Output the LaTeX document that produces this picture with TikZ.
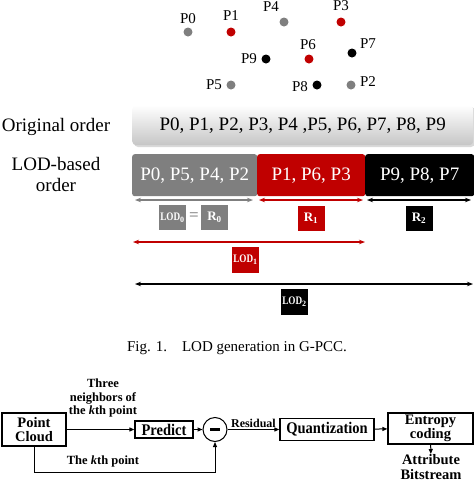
\documentclass[tikz,border=0pt]{standalone}
\usepackage{fontspec}
\setmainfont{Liberation Serif}
\usetikzlibrary{arrows.meta}
\definecolor{lodgray}{HTML}{7F7F7F}
\definecolor{lodred}{HTML}{C00000}
\newcommand{\tallx}[1]{\scalebox{1}[1.12]{#1}}
\begin{document}
\begin{tikzpicture}[x=1pt,y=-1pt,
  dot/.style={circle,inner sep=0pt,minimum size=9pt},
  plabel/.style={font=\fontsize{15}{15}\selectfont,inner sep=0pt},
  big/.style={font=\fontsize{19}{21}\selectfont,inner sep=0pt},
  seg/.style={rounded corners=2.5pt,inner sep=0pt,minimum height=42pt,text=white,font=\fontsize{19}{21}\selectfont,anchor=north west},
  tag/.style={inner sep=0pt,minimum width=27pt,minimum height=25pt,text=white,font=\bfseries\fontsize{11.5}{11.5}\selectfont},
  span/.style={line width=1.6pt,{Stealth[length=6pt,width=4.5pt]}-{Stealth[length=6pt,width=4.5pt]}},
  blk/.style={draw,line width=1.3pt,inner sep=0pt,align=center,font=\bfseries\fontsize{14.5}{14.5}\selectfont},
  note/.style={inner sep=0pt,align=center,font=\bfseries\fontsize{12.5}{13.5}\selectfont},
  arr/.style={line width=1pt,-{Triangle[length=5pt,width=4pt]}}
]
\useasboundingbox (0,0) rectangle (474,483);

% points
\node[dot,fill=lodgray] (p0) at (188,32) {};
\node[plabel] (l0) at (188,19) {P0};
\node[dot,fill=lodred] (p1) at (231,32) {};
\node[plabel] (l1) at (231,16) {P1};
\node[dot,fill=lodgray] (p4) at (284,22) {};
\node[plabel] (l4) at (271,7) {P4};
\node[dot,fill=lodred] (p3) at (341,22) {};
\node[plabel] (l3) at (341,6) {P3};
\node[dot,fill=black] (p9) at (266,59) {};
\node[plabel] (l9) at (249,59) {P9};
\node[dot,fill=lodred] (p6) at (309,59) {};
\node[plabel] (l6) at (308,45) {P6};
\node[dot,fill=black] (p7) at (352,53) {};
\node[plabel] (l7) at (368,44) {P7};
\node[dot,fill=lodgray] (p5) at (231,85) {};
\node[plabel] (l5) at (214,85) {P5};
\node[dot,fill=black] (p8) at (317,85) {};
\node[plabel] (l8) at (300,87) {P8};
\node[dot,fill=lodgray] (p2) at (351,85) {};
\node[plabel] (l2) at (368,82) {P2};

% orders
\node[big] (origlbl) at (56,127) {Original order};
\fill[gray!30,rounded corners=4pt] (134,107) rectangle (475,147);
\node[rounded corners=4pt,top color=white,bottom color=gray!45,inner sep=0pt,
  minimum width=341pt,minimum height=40pt,anchor=north west,font=\fontsize{19}{21}\selectfont] (orig) at (132,105)
  {P0, P1, P2, P3, P4 ,P5, P6, P7, P8, P9};
\node[big,align=center] (lodlbl) at (56,174) {LOD-based\\order};
\node[seg,fill=lodgray,minimum width=125pt] (sg) at (132,154) {P0, P5, P4, P2};
\node[seg,fill=lodred,minimum width=108pt] (sr) at (257,154) {P1, P6, P3};
\node[seg,fill=black,minimum width=109pt] (sb) at (365,154) {P9, P8, P7};

% spans
\coordinate (g1) at (135,200); \coordinate (g2) at (253,200);
\coordinate (r1) at (259,200); \coordinate (r2) at (363,200);
\coordinate (b1) at (367,200); \coordinate (b2) at (471,200);
\draw[span,lodgray] (g1) -- (g2);
\draw[span,lodred] (r1) -- (r2);
\draw[span,black] (b1) -- (b2);
\node[tag,fill=lodgray] (lod0) at (172.5,217.5) {\scalebox{0.8}[1]{LOD}$_{\mathbf{0}}$};
\node[inner sep=0pt,font=\bfseries\fontsize{17}{17}\selectfont,text=gray!80] (eq) at (194,217) {=};
\node[tag,fill=lodgray,font=\bfseries\fontsize{13}{13}\selectfont] (rr0) at (214.5,217.5) {R$_{\mathbf{0}}$};
\node[tag,fill=lodred,font=\bfseries\fontsize{13}{13}\selectfont] (rr1) at (311,218) {R$_{\mathbf{1}}$};
\node[tag,fill=black,font=\bfseries\fontsize{13}{13}\selectfont] (rr2) at (419,218) {R$_{\mathbf{2}}$};

\coordinate (m1) at (133,242); \coordinate (m2) at (365,242);
\draw[span,lodred] (m1) -- (m2);
\node[tag,fill=lodred,minimum height=26pt] (lod1) at (245.5,260) {\scalebox{0.8}[1]{LOD}$_{\mathbf{1}}$};
\coordinate (n1) at (135,284); \coordinate (n2) at (473,284);
\draw[span,black] (n1) -- (n2);
\node[tag,fill=black,minimum height=26pt] (lod2) at (294.5,302) {\scalebox{0.8}[1]{LOD}$_{\mathbf{2}}$};

% caption
\node[inner sep=0pt,font=\fontsize{15}{15}\selectfont] (cap) at (237,348) {Fig. 1.\hspace{1em}LOD generation in G-PCC.};

% pipeline
\node[blk,minimum width=64pt,minimum height=33pt] (pc) at (34,429.5) {Point\\Cloud};
\node[blk,minimum width=58pt,minimum height=17pt] (pred) at (164,429.5) {\tallx{Predict}};
\node[draw,circle,line width=1pt,minimum size=24pt,inner sep=0pt] (circ) at (215,429.5) {\rule{10pt}{3pt}};
\node[blk,minimum width=94pt,minimum height=22pt] (quant) at (327,429.5) {\tallx{Quantization}};
\node[blk,minimum width=85pt,minimum height=31pt] (ent) at (430.5,428.5) {Entropy\\coding};
\node[inner sep=0pt,align=center,anchor=north,font=\bfseries\fontsize{14.5}{15}\selectfont] (attr) at (431,454) {Attribute\\Bitstream};

\node[note] (nb) at (103,398) {Three\\neighbors of\\the \textit{k}th point};
\node[note] (kp) at (103,461) {The \textit{k}th point};

\draw[arr] (pc) -- (pred);
\draw[arr] (pred) -- (circ);
\draw[arr] (circ) -- node[above=1pt,inner sep=0pt,font=\bfseries\fontsize{12}{12}\selectfont] (res) {Residual} (quant);
\draw[arr] (quant) -- (ent);
\draw[arr] (ent) -- (attr);
\coordinate (bl) at (34,472);
\draw[arr] (pc.south) -- (bl) -| (circ.south);
\end{tikzpicture}
\end{document}
